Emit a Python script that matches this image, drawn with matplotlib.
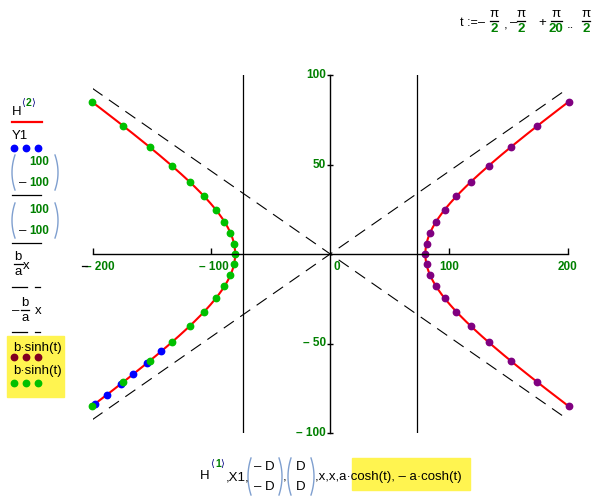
import numpy as np
import matplotlib
matplotlib.use("Agg")
import matplotlib.pyplot as plt
from matplotlib.lines import Line2D
from matplotlib.patches import Rectangle

plt.rcParams['font.family'] = ['Liberation Sans', 'DejaVu Sans']

# hyperbola parameters
a = 80
b = 37
D = 73
t_start = -np.pi / 2
t_end = np.pi / 2
t_step = np.pi / 20

# X1, Y1 points (blue)
X1 = [-198, -188, -176, -166, -154, -142]
Y1 = [-84, -79, -72.5, -67, -61, -54]

vline_y = [-100, 100]
asym_x = [-200, 200]

x_ticks = [-200, -100, 0, 100, 200]
x_ticklabels = ["\u2013 200", "\u2013 100", "0", "100", "200"]
y_ticks = [100, 50, -50, -100]
y_ticklabels = ["100", "50", "\u2013 50", "\u2013 100"]

GREEN_NUM = "#008000"
YELLOW = "#fff450"
W, H = 601, 500

fig = plt.figure(figsize=(6.01, 5.0), dpi=100)
ax = fig.add_axes([92.5 / W, 1 - 433 / H, (568 - 92.5) / W, (433 - 75) / H])
ax.patch.set_visible(False)

t = np.arange(t_start, t_end + t_step / 2, t_step)
tH = np.linspace(t_start, t_end, 150)

# traces in Mathcad order
ax.plot(a * np.cosh(tH), b * np.sinh(tH), color="red", lw=1.5, clip_on=False)
ax.plot(-a * np.cosh(tH), b * np.sinh(tH), color="red", lw=1.5, clip_on=False)
ax.plot(X1, Y1, "o", color="#0000ff", ms=4.6, clip_on=False)
ax.plot([-D, -D], vline_y, color="black", lw=0.9)
ax.plot([D, D], vline_y, color="black", lw=0.9)
xs = np.array(asym_x)
ax.plot(xs, b / a * xs, color="black", lw=0.8, ls=(0, (11, 7)))
ax.plot(xs, -b / a * xs, color="black", lw=0.8, ls=(0, (11, 7)))
ax.plot(a * np.cosh(t), b * np.sinh(t), "o", color="#800080", ms=4.6, clip_on=False)
ax.plot(-a * np.cosh(t), b * np.sinh(t), "o", color="#00c000", ms=4.6, clip_on=False)

# crossed axes
ax.set_xlim(-200, 200)
ax.set_ylim(-100, 100)
for s in ["top", "right"]:
    ax.spines[s].set_visible(False)
ax.spines["left"].set_position(("data", 0))
ax.spines["bottom"].set_position(("data", 0))
ax.spines["left"].set_linewidth(1.0)
ax.spines["bottom"].set_linewidth(1.0)
ax.set_xticks([v for v in x_ticks if v != 0])
ax.set_yticks(y_ticks)
ax.tick_params(axis="x", direction="in", length=4, width=1, labelbottom=False)
ax.tick_params(axis="y", direction="inout", length=5, width=1, labelleft=False)

tick_style = dict(color=GREEN_NUM, fontsize=8.5, fontweight="bold",
                  textcoords="offset points", va="center", annotation_clip=False)
for xv, lab in zip(x_ticks, x_ticklabels):
    dx = 0
    if xv == -200:
        dx = 5
    if xv == 0:
        dx = 4.5
    if xv == -100:
        dx = 2
    ax.annotate(lab, (xv, 0), xytext=(dx, -9.4), ha="center", **tick_style)
for yv, lab in zip(y_ticks, y_ticklabels):
    ax.annotate(lab, (0, yv), xytext=(-3, 0), ha="right", **tick_style)


# helpers for the Mathcad style labels, in pixel coordinates
def ftext(x, y, s, color="black", size=9.5, ha="left", va="center", **kw):
    fig.text(x / W, 1 - y / H, s, color=color, fontsize=size, ha=ha, va=va, **kw)


def fline(xs, ys, color="black", lw=0.9, **kw):
    fig.add_artist(Line2D([x / W for x in xs], [1 - y / H for y in ys],
                          color=color, lw=lw, **kw))


def fdots(xs, y, color):
    fig.add_artist(Line2D([x / W for x in xs], [1 - y / H] * len(xs),
                          ls="none", marker="o", ms=4.6, color=color))


def paren(x, y0, y1, left=True):
    s = np.linspace(0, 1, 30)
    bulge = 3 * (1 - (2 * s - 1) ** 2)
    px = x - bulge if left else x + bulge
    fline(px, y0 + (y1 - y0) * s, color="#7f9fcf", lw=1.0)


def frac(xc, y, num, den, w, ncol="black", dcol=GREEN_NUM, size=9.5, dbold=True):
    ftext(xc, y - 7, num, color=ncol, size=size, ha="center")
    fline([xc - w / 2, xc + w / 2], [y, y], lw=0.9)
    ftext(xc, y + 8, den, color=dcol, size=size, ha="center",
          fontweight="bold" if dbold else "normal")


def superscript(x, y, n):
    ftext(x, y, "\u27e8", color="#000080", size=7)
    ftext(x + 5, y, n, color=GREEN_NUM, size=7.5, fontweight="bold")
    ftext(x + 10, y, "\u27e9", color="#000080", size=7)


# legend on the left
ftext(12, 112, "H")
superscript(21, 103, "2")
fline([12, 42], [122, 122], color="red", lw=1.6)
ftext(12, 136, "Y1")
fdots([14, 26, 38], 148.5, "#0000ff")

for y0 in [155, 203]:
    paren(15, y0, y0 + 35, left=True)
    paren(55, y0, y0 + 35, left=False)
    ftext(29, y0 + 7, "100", color=GREEN_NUM, size=8.5, fontweight="bold")
    ftext(19, y0 + 28, "\u2013", size=9.5)
    ftext(29, y0 + 28, "100", color=GREEN_NUM, size=8.5, fontweight="bold")
    fline([12, 41], [y0 + 40, y0 + 40])

frac(18, 264, "b", "a", 9, dcol="black", dbold=False)
ftext(23, 266, "x")
fline([82, 87], [266, 266])
fline([12, 27], [287, 287])
fline([35, 40], [287, 287])

ftext(12, 311, "\u2013")
frac(25, 310, "b", "a", 8, dcol="black", dbold=False)
ftext(35, 311, "x")
fline([12, 27], [332, 332])
fline([35, 40], [332, 332])

fig.add_artist(Rectangle((7 / W, 1 - 397 / H), 57 / W, 61 / H,
                         transform=fig.transFigure, color=YELLOW, zorder=-1))
ftext(13, 348, "b\u00b7sinh(t)")
fdots([14, 26, 38], 357, "#800020")
ftext(13, 371, "b\u00b7sinh(t)")
fdots([14, 26, 38], 383, "#00c000")

# bottom x-axis expression
fig.add_artist(Rectangle((352 / W, 1 - 490 / H), 118 / W, 32 / H,
                         transform=fig.transFigure, color=YELLOW, zorder=-1))
ftext(200, 476, "H")
superscript(210, 464, "1")
ftext(226, 477, ",X1,")
paren(251, 458, 495, left=True)
ftext(254, 467, "\u2013 D")
ftext(254, 487, "\u2013 D")
paren(279, 458, 495, left=False)
ftext(283, 477, ",")
paren(291, 458, 495, left=True)
ftext(296, 467, "D")
ftext(296, 487, "D")
paren(311, 458, 495, left=False)
ftext(315, 477, ",x,x,a\u00b7cosh(t), \u2013 a\u00b7cosh(t)")

# range definition top right
ftext(460, 23, "t :=", size=9)
ftext(478, 23, "\u2013", size=9)
frac(494, 21, "\u03c0", "2", 8)
ftext(504, 25, ",")
ftext(510, 23, "\u2013")
frac(521, 21, "\u03c0", "2", 8)
ftext(538, 23, "+")
frac(556, 21, "\u03c0", "20", 11)
ftext(567, 25, "..")
frac(586, 21, "\u03c0", "2", 8)

fig.savefig("out.png", dpi=100)
